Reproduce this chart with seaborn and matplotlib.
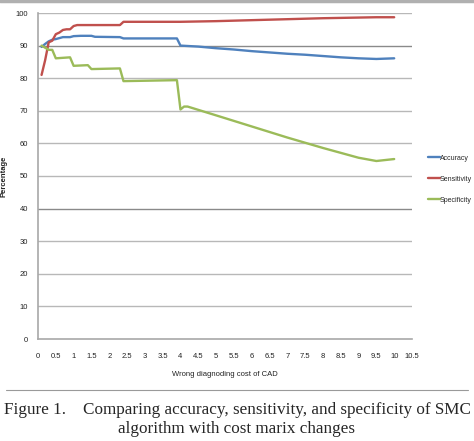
import pandas as pd
import matplotlib
matplotlib.use('Agg')
import matplotlib.pyplot as plt
import seaborn as sns

# values
acc_x = [0.1, 0.2, 0.3, 0.4, 0.5, 0.6, 0.7, 0.9, 1.0, 1.2, 1.5, 1.6, 2.3, 2.4, 3.9, 4.0,
         4.5, 5.0, 5.5, 6.0, 6.5, 7.0, 7.5, 8.0, 8.5, 9.0, 9.5, 10.0]
acc_y = [89.6, 90.5, 91.3, 91.8, 92.0, 92.3, 92.6, 92.6, 92.9, 93.0, 93.0, 92.7, 92.6, 92.2, 92.2, 90.0,
         89.7, 89.2, 88.8, 88.3, 87.9, 87.5, 87.2, 86.8, 86.4, 86.1, 85.9, 86.1]

sen_x = [0.1, 0.2, 0.3, 0.4, 0.5, 0.6, 0.7, 0.8, 0.9, 1.0, 1.1, 2.3, 2.4, 4.0,
         5.0, 6.0, 7.0, 8.0, 9.0, 9.5, 10.0]
sen_y = [81.0, 85.5, 91.0, 91.5, 93.5, 94.0, 94.8, 95.0, 95.0, 96.0, 96.3, 96.3, 97.3, 97.3,
         97.5, 97.8, 98.1, 98.4, 98.6, 98.7, 98.7]

spe_x = [0.1, 0.3, 0.4, 0.5, 0.9, 1.0, 1.4, 1.5, 2.3, 2.4, 3.9, 4.0, 4.1, 4.2,
         5.0, 6.0, 7.0, 8.0, 9.0, 9.5, 10.0]
spe_y = [90.0, 88.7, 88.7, 86.1, 86.4, 83.8, 84.0, 82.8, 83.0, 79.1, 79.4, 70.4, 71.3, 71.3,
         68.6, 65.2, 61.8, 58.6, 55.6, 54.6, 55.2]

series = ['Accuracy', 'Sensitivity', 'Specificity']
colors = ['#4F81BD', '#C0504D', '#9BBB59']

x_ticks = [i * 0.5 for i in range(22)]
x_tick_labels = ['0', '0.5', '1', '1.5', '2', '2.5', '3', '3.5', '4', '4.5', '5', '5.5', '6', '6.5',
                 '7', '7.5', '8', '8.5', '9', '9.5', '10', '10.5']
y_ticks = list(range(0, 101, 10))

df = pd.concat([
    pd.DataFrame({'cost': acc_x, 'pct': acc_y, 'metric': 'Accuracy'}),
    pd.DataFrame({'cost': sen_x, 'pct': sen_y, 'metric': 'Sensitivity'}),
    pd.DataFrame({'cost': spe_x, 'pct': spe_y, 'metric': 'Specificity'}),
], ignore_index=True)

sns.set_style('white')
plt.rcParams['font.family'] = ['Liberation Sans Narrow', 'Liberation Sans', 'DejaVu Sans']

fig = plt.figure(figsize=(4.74, 4.41), dpi=100)
ax = fig.add_axes([38 / 474, 1 - 339 / 441, 374 / 474, 326 / 441])

# gridlines (two of them come out darker in the reference)
for v in y_ticks[1:]:
    c = '#8a8a8a' if v in (40, 90) else '#b8b8b8'
    ax.axhline(v, color=c, lw=1.0, zorder=1)

sns.lineplot(data=df, x='cost', y='pct', hue='metric', hue_order=series,
             palette=colors, lw=1.7, ax=ax, zorder=3, estimator=None, sort=False)

ax.set_xlim(0, 10.5)
ax.set_ylim(0, 100)
ax.set_xticks(x_ticks)
ax.set_xticklabels(x_tick_labels)
ax.set_yticks(y_ticks)
ax.tick_params(axis='both', labelsize=5.5, length=3, width=0.8, color='#9a9a9a',
               direction='out', pad=4, labelcolor='#222222')
ax.tick_params(axis='x', pad=7)
for s in ['top', 'right']:
    ax.spines[s].set_visible(False)
for s in ['left', 'bottom']:
    ax.spines[s].set_color('#a8a8a8')
    ax.spines[s].set_linewidth(1.2)
ax.patch.set_alpha(0)

ax.set_xlabel('Wrong diagnoding cost of CAD', fontsize=5.5, labelpad=8, color='#222222')
ax.set_ylabel('Percentage', fontsize=5.5, fontweight='bold', labelpad=6, color='#222222')

ax.legend(loc='center left', bbox_to_anchor=(1.035, 0.49), frameon=False, fontsize=5,
          handlelength=1.7, handletextpad=0.05, labelspacing=2.0, borderaxespad=0)

# page decorations: top rule, separator, caption
fig.add_artist(plt.Line2D([0, 1], [1 - 1 / 441, 1 - 1 / 441], color='#b0b0b0', lw=2.5))
fig.add_artist(plt.Line2D([6 / 474, 468 / 474], [1 - 390 / 441, 1 - 390 / 441],
                          color='#9a9a9a', lw=0.8))
fig.text(0.5, 1 - 410 / 441,
         'Figure 1.    Comparing accuracy, sensitivity, and specificity of SMC',
         ha='center', va='center', fontsize=12.3, family='Liberation Serif')
fig.text(0.5, 1 - 429 / 441, 'algorithm with cost marix changes',
         ha='center', va='center', fontsize=12.3, family='Liberation Serif')

plt.savefig('out.png', dpi=100)
plt.close()
